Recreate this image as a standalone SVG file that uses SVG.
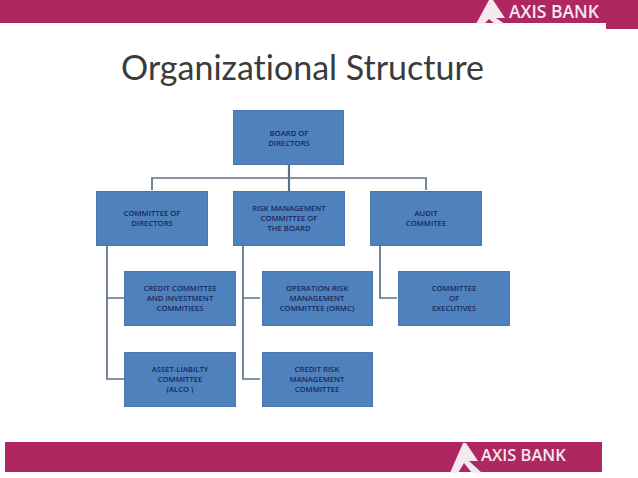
<svg xmlns="http://www.w3.org/2000/svg" width="638" height="478" viewBox="0 0 638 478">
<style>
.box{fill:#4f81bd;stroke:#4a76ab;stroke-width:1}
.t{font-family:"Open Sans","Liberation Sans",sans-serif;font-size:7.7px;font-weight:600;fill:#17295a;text-anchor:middle}
.c{fill:none;stroke:#5d7184;stroke-width:1.7}
.band{fill:#ae2760}
.logo{fill:#f3eaef}
.bt{font-family:"Open Sans","Liberation Sans",sans-serif;font-weight:600;fill:#f5e9ef}
</style>
<rect width="638" height="478" fill="#fff"/>
<g id="header">
<rect class="band" x="0" y="0" width="638" height="23"/>
<rect class="band" x="606" y="23" width="32" height="6"/>
<path class="logo" d="M476 24 L489 0 L493 0 L505 18 L496 18 L505 24 L495 24 L489 19 L484 24Z"/>
<text class="bt" font-size="17.5" x="509" y="18">AXIS BANK</text>
</g>
<text x="121" y="80" font-family="Lato,'Open Sans','Liberation Sans',sans-serif" font-size="34px" style="font-variant-ligatures:none" fill="#3b3b3b">Organizational Structure</text>
<g id="connectors">
<path class="c" d="M289 165V191" style="stroke-width:2.200"/>
<path class="c" d="M152 190V178H426V190"/>
<path class="c" d="M107 246V298H124M107 298V379H124"/>
<path class="c" d="M243 246V298H260M243 298V379H260"/>
<path class="c" d="M380 246V298H397"/>
</g>
<g id="board"><rect class="box" x="233.500" y="110.500" width="110" height="54"/><text class="t" x="289" y="136">BOARD OF</text><text class="t" x="289" y="146">DIRECTORS</text></g>
<g id="committee-directors"><rect class="box" x="96.500" y="191.500" width="111" height="54"/><text class="t" x="152" y="216">COMMITTEE OF</text><text class="t" x="152" y="226">DIRECTORS</text></g>
<g id="risk-committee"><rect class="box" x="233.500" y="191.500" width="111" height="54"/><text class="t" x="289" y="211">RISK MANAGEMENT</text><text class="t" x="289" y="221">COMMITTEE OF</text><text class="t" x="289" y="231">THE BOARD</text></g>
<g id="audit"><rect class="box" x="370.500" y="191.500" width="111" height="54"/><text class="t" x="426" y="216">AUDIT</text><text class="t" x="426" y="226">COMMITEE</text></g>
<g id="credit-committee"><rect class="box" x="124.500" y="271.500" width="111" height="54"/><text class="t" x="180" y="291">CREDIT COMMITTEE</text><text class="t" x="180" y="301">AND INVESTMENT</text><text class="t" x="180" y="311">COMMITIEES</text></g>
<g id="alco"><rect class="box" x="124.500" y="352.500" width="111" height="54"/><text class="t" x="180" y="372">ASSET-LIABILTY</text><text class="t" x="180" y="382">COMMITTEE</text><text class="t" x="180" y="392">(ALCO )</text></g>
<g id="ormc"><rect class="box" x="262.500" y="271.500" width="110" height="54"/><text class="t" x="317" y="291">OPERATION RISK</text><text class="t" x="317" y="301">MANAGEMENT</text><text class="t" x="317" y="311">COMMITTEE (ORMC)</text></g>
<g id="credit-risk"><rect class="box" x="262.500" y="352.500" width="110" height="54"/><text class="t" x="317" y="372">CREDIT RISK</text><text class="t" x="317" y="382">MANAGEMENT</text><text class="t" x="317" y="392">COMMITTEE</text></g>
<g id="executives"><rect class="box" x="398.500" y="271.500" width="111" height="54"/><text class="t" x="454" y="291">COMMITTEE</text><text class="t" x="454" y="301">OF</text><text class="t" x="454" y="311">EXECUTIVES</text></g>
<g id="footer">
<rect class="band" x="5" y="442" width="597" height="30"/>
<path class="logo" d="M450 473 L463 443 L466 443 L478 461 L469 461 L482 473 L472 473 L464 463 L458 473Z"/>
<text class="bt" font-size="16.500" x="481" y="461">AXIS BANK</text>
</g>
</svg>
